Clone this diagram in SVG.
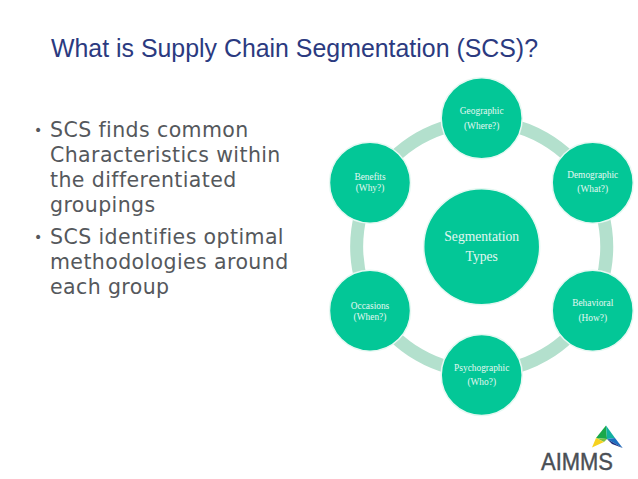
<svg xmlns="http://www.w3.org/2000/svg" width="638" height="479" viewBox="0 0 638 479">
<style>
.title{font:24.9px "Liberation Sans",Arial,sans-serif;fill:#2b3a80}
.body{font:20.5px "DejaVu Sans",Verdana,sans-serif;letter-spacing:.4px;fill:#55585c}
.dot{font:14px "DejaVu Sans",Verdana,sans-serif;fill:#55585c}
.node{fill:#03c797;stroke:#e6f8f2;stroke-width:1.5}
.lbl{font:9.4px "Liberation Serif","Times New Roman",serif;fill:#e4f8f2;text-anchor:middle}
.big{font:13.6px "Liberation Serif","Times New Roman",serif;fill:#e4f8f2;text-anchor:middle}
.ring{fill:none;stroke:#b3e0cd;stroke-width:13}
</style>
<rect width="638" height="479" fill="#fff"/>
<text class="title" x="51" y="57">What is Supply Chain Segmentation (SCS)?</text>
<g id="bullets">
<text class="dot" x="34" y="135">•</text>
<text class="body" x="50" y="137">SCS finds common</text>
<text class="body" x="50" y="162">Characteristics within</text>
<text class="body" x="50" y="187">the differentiated</text>
<text class="body" x="50" y="212">groupings</text>
<text class="dot" x="34" y="242">•</text>
<text class="body" x="50" y="244">SCS identifies optimal</text>
<text class="body" x="50" y="269">methodologies around</text>
<text class="body" x="50" y="294">each group</text>
</g>
<g id="connectors">
<path class="ring" d="M481.7 121.7A125 125 0 0 1 590 184.2"/>
<path class="ring" d="M590 184.2A125 125 0 0 1 590 309.2"/>
<path class="ring" d="M590 309.2A125 125 0 0 1 481.7 371.7"/>
<path class="ring" d="M481.7 371.7A125 125 0 0 1 373.4 309.2"/>
<path class="ring" d="M373.4 309.2A125 125 0 0 1 373.4 184.2"/>
<path class="ring" d="M373.4 184.2A125 125 0 0 1 481.7 121.7"/>
</g>
<g id="center"><circle class="node" cx="481.7" cy="246.7" r="58"/><text class="big" x="481.7" y="241">Segmentation</text><text class="big" x="481.7" y="261">Types</text></g>
<g id="geographic"><circle class="node" cx="481.7" cy="118.3" r="40.5"/><text class="lbl" x="481.7" y="114">Geographic</text><text class="lbl" x="481.7" y="129">(Where?)</text></g>
<g id="demographic"><circle class="node" cx="592.7" cy="182.7" r="40.5"/><text class="lbl" x="592.7" y="178">Demographic</text><text class="lbl" x="592.7" y="192">(What?)</text></g>
<g id="behavioral"><circle class="node" cx="592.7" cy="310.7" r="40.5"/><text class="lbl" x="592.7" y="306">Behavioral</text><text class="lbl" x="592.7" y="321">(How?)</text></g>
<g id="psychographic"><circle class="node" cx="481.7" cy="375" r="40.5"/><text class="lbl" x="481.7" y="371">Psychographic</text><text class="lbl" x="481.7" y="385">(Who?)</text></g>
<g id="occasions"><circle class="node" cx="370" cy="310.7" r="40.5"/><text class="lbl" x="370" y="309">Occasions</text><text class="lbl" x="370" y="319.5">(When?)</text></g>
<g id="benefits"><circle class="node" cx="370" cy="182.7" r="40.5"/><text class="lbl" x="370" y="180">Benefits</text><text class="lbl" x="370" y="190.5">(Why?)</text></g>
<g id="logo">
<polygon points="606,425.5 607,439 596,438" fill="#1aa84a"/>
<polygon points="606,425.5 615,438 607,439" fill="#12b0a0"/>
<polygon points="596,438 607,439 604,442" fill="#7cc241"/>
<polygon points="596,438 604,442 592,447.5" fill="#f6d21f"/>
<polygon points="607,439 615,438 622.7,448" fill="#1c6fc0"/>
<polygon points="607,439 622.7,448 612,444" fill="#1c2f80"/>
<text x="541" y="470" font-family="'Liberation Sans',Arial,sans-serif" font-size="23" fill="#4a4f55" stroke="#4a4f55" stroke-width=".4" textLength="72" lengthAdjust="spacingAndGlyphs">AIMMS</text>
</g>
</svg>
